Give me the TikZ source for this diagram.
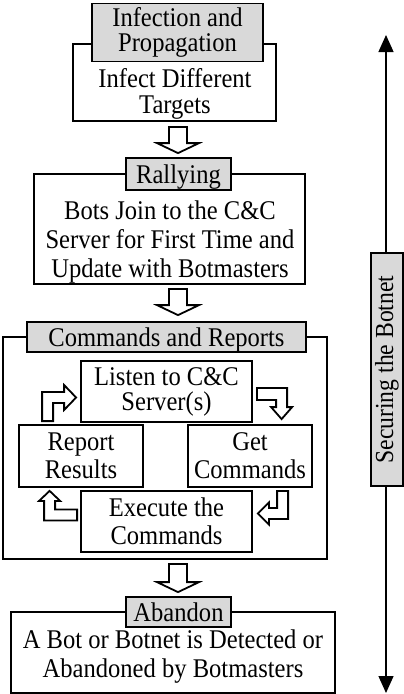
\documentclass[tikz,border=0pt]{standalone}
\usepackage{fontspec}
\setmainfont{Liberation Serif}[FakeStretch=0.91]
\usetikzlibrary{calc,arrows.meta}
\definecolor{hdrgray}{HTML}{D9D9D9}
\begin{document}
\begin{tikzpicture}[x=1pt,y=-1pt,
  box/.style={draw,line width=1.8pt,inner sep=0pt,fill=white},
  hdr/.style={box,fill=hdrgray,align=center,font=\fontsize{27}{25}\selectfont},
  one/.style={text depth=0pt},
  txt/.style={inner sep=0pt,align=center,font=\fontsize{27}{#1}\selectfont},
  txt/.default=28,
  blk/.style={draw,line width=1.8pt,fill=white,line join=miter},
  vtip/.tip={Triangle[length=17pt,width=15pt]}
  ]
\useasboundingbox (0,0) rectangle (404,694);
\coordinate (ax) at (178,0);

% Infection and Propagation
\node[box,minimum width=203pt,minimum height=77pt] (infbox) at (174.5,82.5) {};
\node[hdr,minimum width=171pt,minimum height=58pt] (infhdr) at (177.5,32.5) {Infection and\\Propagation};
\node[txt=26] (inftxt) at (175,93.8) {Infect Different\\Targets};

% Rallying
\node[box,minimum width=271pt,minimum height=110pt] (ralbox) at (169.5,229) {};
\node[hdr,one,minimum width=105pt,minimum height=32pt] (ralhdr) at (178.5,174) {Rallying};
\node[txt=29] (raltxt) at (170,241.8) {Bots Join to the C\&C\\Server for First Time and\\Update with Botmasters};

% Commands and Reports
\node[box,minimum width=324pt,minimum height=222pt] (cmdbox) at (165,448) {};
\node[hdr,one,minimum width=279pt,minimum height=30pt] (cmdhdr) at (166.5,337) {Commands and Reports};
\node[box,txt=25,minimum width=171pt,minimum height=61pt] (listen) at (166.5,391.5) {Listen to C\&C\\Server(s)};
\node[box,txt,minimum width=124pt,minimum height=62pt] (report) at (81,456) {Report\\Results};
\node[box,txt,minimum width=124pt,minimum height=62pt] (get) at (250,456) {Get\\Commands};
\node[box,txt,minimum width=171pt,minimum height=61pt] (exec) at (166.5,521.5) {Execute the\\Commands};

% Abandon
\node[box,minimum width=324pt,minimum height=81pt] (abbox) at (173,652.5) {};
\node[hdr,one,minimum width=105pt,minimum height=30pt] (abhdr) at (178.5,612) {Abandon};
\node[txt=29] (abtxt) at (173,656.3) {A Bot or Botnet is Detected or\\Abandoned by Botmasters};

% Big down arrows
\newcommand\bigdown[4]{\draw[blk] let \p1=($(ax |- #1.south)+(0,#3)$), \p2=($(ax |- #2.north)+(0,-#4)$) in
  (\x1-9pt,\y1) -- (\x1+9pt,\y1) -- (\x1+9pt,\y2+10pt) -- (\x1+21pt,\y2+10pt) -- (\x1,\y2)
  -- (\x1-21pt,\y2+10pt) -- (\x1-9pt,\y2+10pt) -- cycle;}
\bigdown{infbox}{ralhdr}{5}{4}
\bigdown{ralbox}{cmdhdr}{4}{6}
\bigdown{cmdbox}{abhdr}{4}{4}

% Small bent arrows
% Report -> Listen
\draw[blk] let \p1=($(report.north west)+(29.5,-3)$), \p2=($(listen.west)+(-4,6)$) in
  (\x1-5.5pt,\y1) -- (\x1-5.5pt,\y2+5.5pt) -- (\x2-12pt,\y2+5.5pt) -- (\x2-12pt,\y2+12.5pt) -- (\x2,\y2)
  -- (\x2-12pt,\y2-12.5pt) -- (\x2-12pt,\y2-5.5pt) -- (\x1+5.5pt,\y2-5.5pt) -- (\x1+5.5pt,\y1) -- cycle;
% Listen -> Get
\draw[blk] let \p1=($(listen.east)+(4,2.5)$), \p2=($(get.north west)+(94.5,-5)$) in
  (\x1,\y1+6pt) -- (\x2+5.5pt,\y1+6pt) -- (\x2+5.5pt,\y2+12pt) -- (\x2+10.5pt,\y2+12pt) -- (\x2,\y2)
  -- (\x2-10.5pt,\y2+12pt) -- (\x2-5.5pt,\y2+12pt) -- (\x2-5.5pt,\y1-6pt) -- (\x1,\y1-6pt) -- cycle;
% Get -> Execute
\draw[blk] let \p1=($(get.south west)+(95.5,3)$), \p2=($(exec.east)+(5,-8)$) in
  (\x1-5.5pt,\y1) -- (\x1+5.5pt,\y1) -- (\x1+5.5pt,\y2-5.5pt) -- (\x2+11pt,\y2-5.5pt) -- (\x2+11pt,\y2-11pt) -- (\x2,\y2)
  -- (\x2+11pt,\y2+11pt) -- (\x2+11pt,\y2+5.5pt) -- (\x1-5.5pt,\y2+5.5pt) -- cycle;
% Execute -> Report
\draw[blk] let \p1=($(exec.west)+(-3,-6.5)$), \p2=($(report.south west)+(31.5,3)$) in
  (\x1,\y1+5.5pt) -- (\x2+5.5pt,\y1+5.5pt) -- (\x2+5.5pt,\y2-10pt) -- (\x2+10.5pt,\y2-10pt) -- (\x2,\y2)
  -- (\x2-10.5pt,\y2-10pt) -- (\x2-5.5pt,\y2-10pt) -- (\x2-5.5pt,\y1-5.5pt) -- (\x1,\y1-5.5pt) -- cycle;

% Securing the Botnet
\coordinate (atop) at (386,35);
\coordinate (abot) at (386,693);
\draw[line width=1.3pt,vtip-vtip] (atop) -- (abot);
\node[hdr,line width=1.2pt,rotate=90,minimum width=233pt,minimum height=32pt,font=\fontsize{26}{24}\selectfont] (sec) at (387,369.5) {Securing the Botnet};
\end{tikzpicture}
\end{document}
